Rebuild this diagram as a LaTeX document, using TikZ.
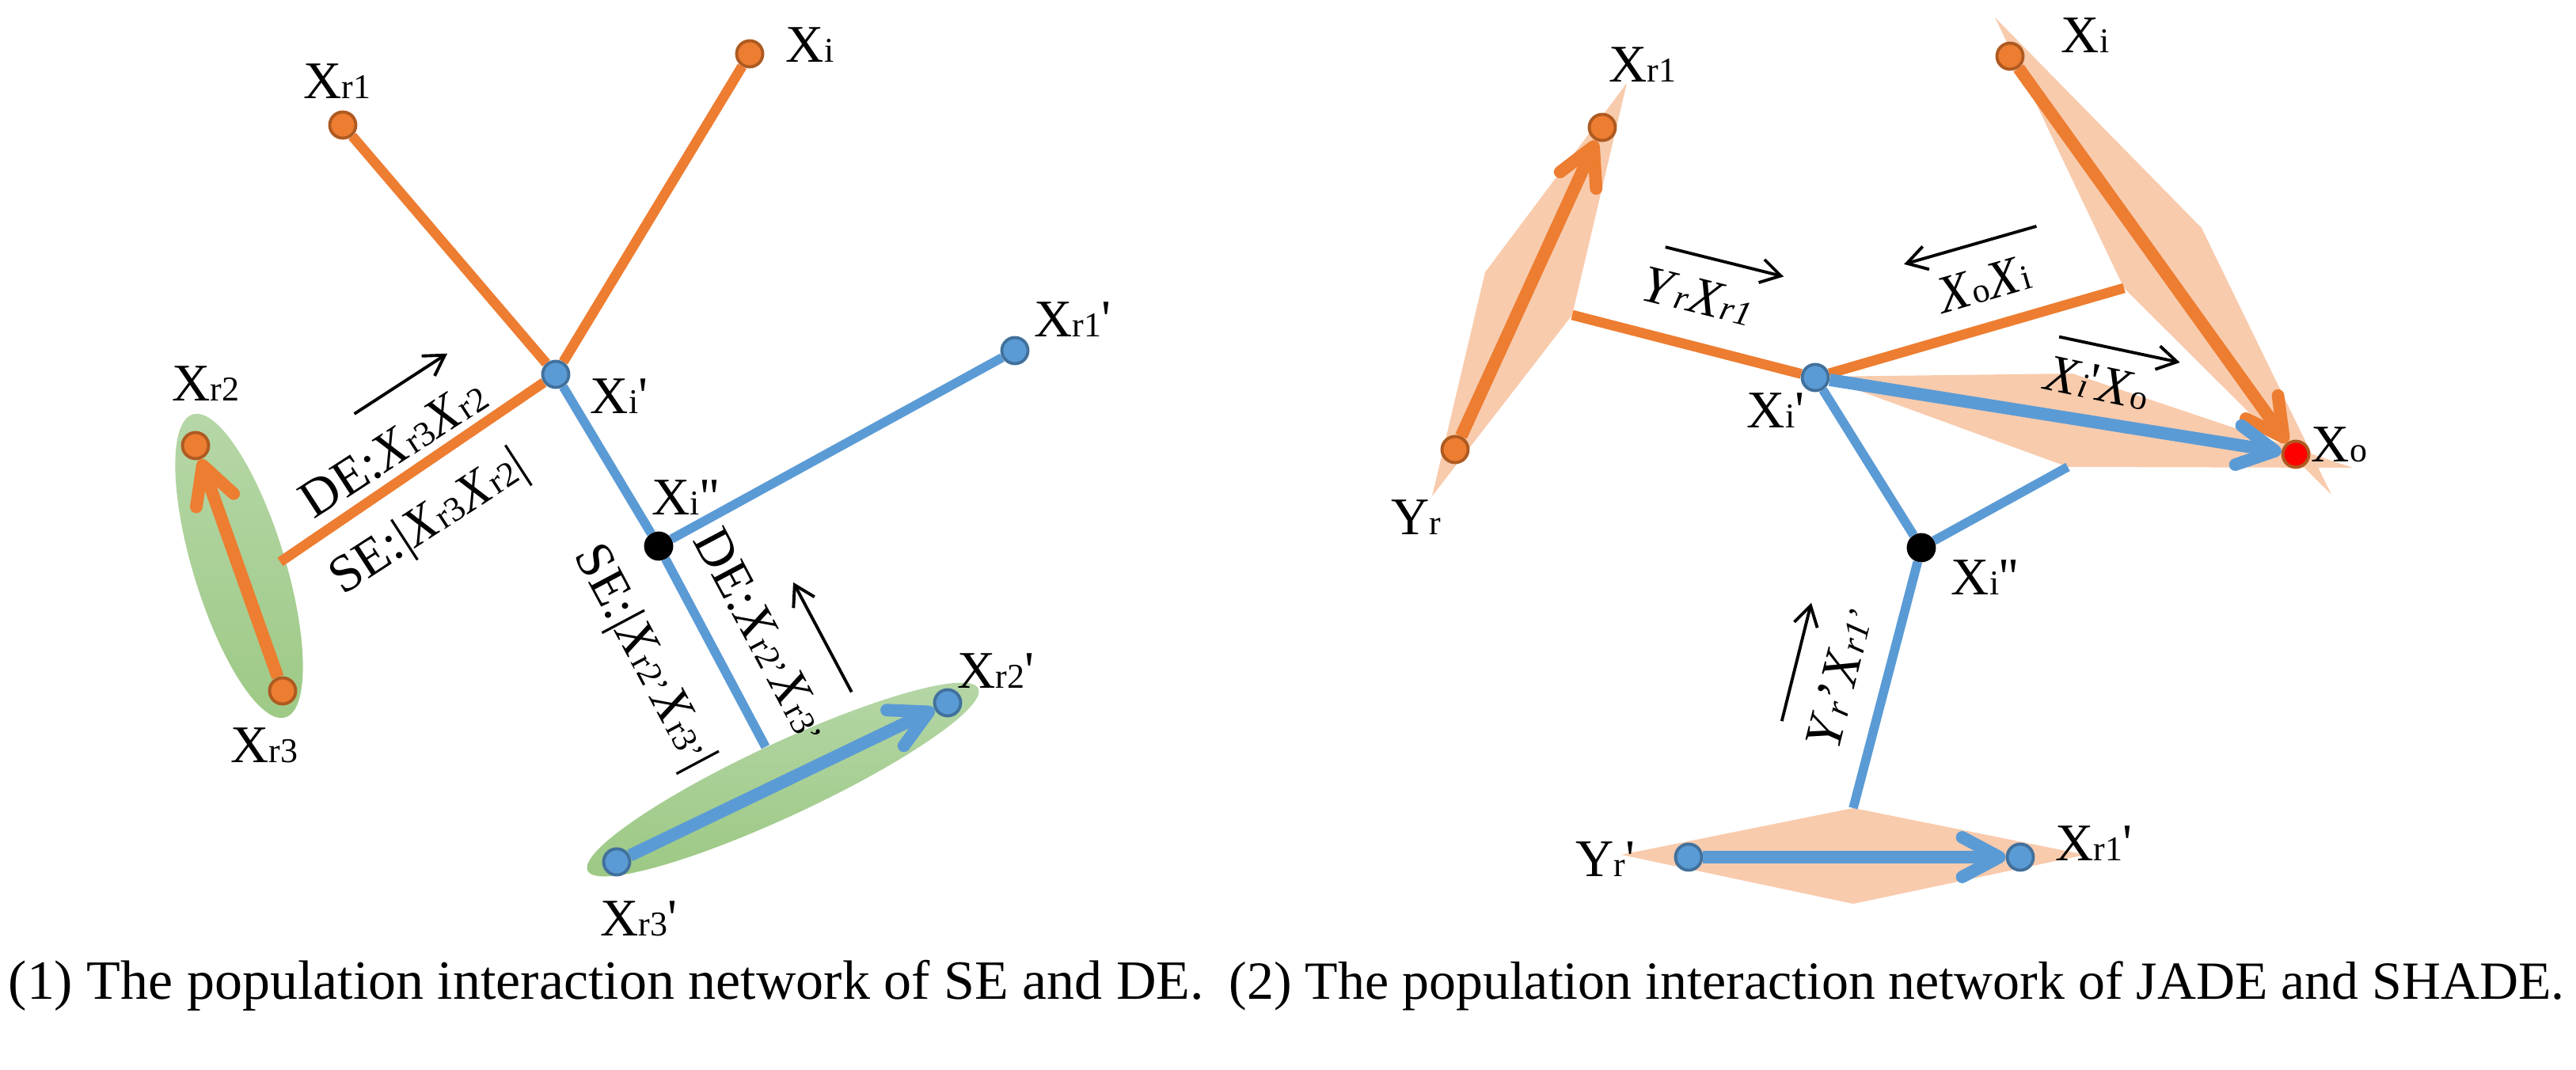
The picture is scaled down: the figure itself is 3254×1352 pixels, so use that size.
\documentclass[tikz,border=0pt]{standalone}
\usepackage{fontspec}
\setmainfont{Liberation Serif}
\usetikzlibrary{arrows.meta, shapes.geometric}
\definecolor{orng}{HTML}{ED7D31}
\definecolor{orngdk}{HTML}{AE5A21}
\definecolor{blu}{HTML}{5B9BD5}
\definecolor{bludk}{HTML}{41719C}
\definecolor{peach}{HTML}{F8CBAD}
\definecolor{grnlt}{HTML}{B6D7A8}
\definecolor{grndk}{HTML}{9DC985}
\newcommand{\smallsub}[1]{{\fontsize{12.5}{12.5}\selectfont #1}}
\newcommand{\sprime}{\textquotesingle}

\begin{document}
\begin{tikzpicture}[
  x=0.01cm, y=-0.01cm,
  lbl/.style={font=\fontsize{19}{19}\selectfont, inner sep=0pt},
  captext/.style={inner sep=0pt, anchor=base west},
  odot/.style={circle, minimum size=0.33cm, inner sep=0pt, line width=1.1pt, fill=orng, draw=orngdk},
  bdot/.style={odot, fill=blu, draw=bludk},
  kdot/.style={odot, fill=black, draw=black},
  rdot/.style={odot, fill=red, draw=orngdk},
  oline/.style={orng, line width=3.6pt},
  bline/.style={blu, line width=3.3pt},
  oarrow/.style={oline, line width=4.5pt, -{Straight Barb[length=0.47cm, width=0.5cm, round]}},
  barrow/.style={oarrow, blu},
  vec/.style={line width=1.1pt, -{Straight Barb[length=0.25cm, width=0.3cm]}},
  grp/.style={ellipse, inner sep=0pt, top color=grnlt, bottom color=grndk},
  blob/.style={fill=peach}
]
  \useasboundingbox (0,0) rectangle (3254,1352);

  % (1) SE and DE
  \node[grp, minimum width=4cm, minimum height=1.16cm, rotate=107] (grpone) at (302,715) {};
  \node[grp, minimum width=5.44cm, minimum height=0.92cm, rotate=25] (grptwo) at (989,985) {};
  \coordinate (grponeedge) at (354,710);

  \node[odot] (xrone) at (433,158) {};
  \node[odot] (xi) at (947,68) {};
  \node[bdot] (xip) at (702,473) {};
  \node[bdot] (xronep) at (1282,443) {};
  \node[kdot] (xipp) at (832,690) {};
  \node[odot] (xrtwo) at (247,563) {};
  \node[odot] (xrthree) at (357,873) {};
  \node[bdot] (xrtwop) at (1197,888) {};
  \node[bdot] (xrthreep) at (779,1089) {};

  \draw[oline] (xrone) -- (xip);
  \draw[oline] (xi) -- (xip);
  \draw[oline] (grponeedge) -- (xip);
  \draw[bline] (xip) -- (xipp);
  \draw[bline] (xipp) -- (xronep);
  \draw[bline] (xipp) -- (grptwo);
  \draw[oarrow] (xrthree) -- (xrtwo);
  \draw[barrow] (xrthreep) -- (xrtwop);

  \node[lbl] (lxrone) at (426,103) {X\smallsub{r1}};
  \node[lbl] (lxi) at (1023,57) {X\smallsub{i}};
  \node[lbl] (lxip) at (782,501) {X\smallsub{i}\sprime};
  \node[lbl] (lxronep) at (1355,404) {X\smallsub{r1}\sprime};
  \node[lbl] (lxipp) at (866,629) {X\smallsub{i}\sprime\sprime};
  \node[lbl] (lxrtwo) at (260,485) {X\smallsub{r2}};
  \node[lbl] (lxrthree) at (334,942) {X\smallsub{r3}};
  \node[lbl] (lxrtwop) at (1258,848) {X\smallsub{r2}\sprime};
  \node[lbl] (lxrthreep) at (807,1161) {X\smallsub{r3}\sprime};

  \begin{scope}[shift={(497,566)}, rotate=33, transform shape]
    \node[lbl] (deone) {DE:\textit{X}\smallsub{r3}\textit{X}\smallsub{r2}};
    \draw[vec] (-18,-63) -- (122,-63);
  \end{scope}
  \begin{scope}[shift={(543,662)}, rotate=33, transform shape]
    \node[lbl] (seone) {SE:|\textit{X}\smallsub{r3}\textit{X}\smallsub{r2}|};
  \end{scope}
  \begin{scope}[shift={(963,803)}, rotate=-62, transform shape]
    \node[lbl] (detwo) {DE:\textit{X}\smallsub{r2’}\textit{X}\smallsub{r3’}};
    \draw[vec] (116,-66) -- (-41,-66);
  \end{scope}
  \begin{scope}[shift={(812,832)}, rotate=-62, transform shape]
    \node[lbl] (setwo) {SE:|\textit{X}\smallsub{r2’}\textit{X}\smallsub{r3’}|};
  \end{scope}

  % (2) JADE and SHADE
  \fill[blob] (2055,105) -- (1876,344) -- (1809,627) -- (1986,398) coordinate (yrside) -- cycle;
  \fill[blob] (2520,22) -- (2781,288) -- (2945,625) -- (2683,364) coordinate (xiside) -- cycle;
  \fill[blob] (2300,476) -- (2618,472) -- (2972,591) -- (2612,590) coordinate (xoside) -- cycle;
  \fill[blob] (2048,1080) -- (2341,1021) coordinate (yrptop) -- (2634,1080) -- (2341,1142) -- cycle;

  \node[odot] (rxrone) at (2024,161) {};
  \node[odot] (ryr) at (1838,568) {};
  \node[odot] (rxi) at (2539,71) {};
  \node[rdot] (rxo) at (2900,574) {};
  \node[bdot] (rxip) at (2293,477) {};
  \node[kdot] (rxipp) at (2427,692) {};
  \node[bdot] (ryrp) at (2133,1083) {};
  \node[bdot] (rxronep) at (2552,1083) {};

  \draw[oline] (yrside) -- (rxip);
  \draw[oline] (rxip) -- (xiside);
  \draw[bline] (rxip) -- (rxipp);
  \draw[bline] (rxipp) -- (xoside);
  \draw[bline] (rxipp) -- (yrptop);
  \draw[oarrow] (ryr) -- (rxrone);
  \draw[oarrow] (rxi) -- (rxo);
  \draw[barrow] (rxip) -- (rxo);
  \draw[barrow] (ryrp) -- (rxronep);

  \node[lbl] (lrxrone) at (2075,82) {X\smallsub{r1}};
  \node[lbl] (lryr) at (1789,654) {Y\smallsub{r}};
  \node[lbl] (lrxi) at (2634,45) {X\smallsub{i}};
  \node[lbl] (lrxo) at (2955,562) {X\smallsub{o}};
  \node[lbl] (lrxip) at (2243,519) {X\smallsub{i}\sprime};
  \node[lbl] (lrxipp) at (2507,730) {X\smallsub{i}\sprime\sprime};
  \node[lbl] (lryrp) at (2028,1086) {Y\smallsub{r}\sprime};
  \node[lbl] (lrxronep) at (2645,1066) {X\smallsub{r1}\sprime};

  \begin{scope}[shift={(2145,374)}, rotate=-14, transform shape]
    \node[lbl] (yrxr) {\textit{Y}\smallsub{\textit{r}}\textit{X}\smallsub{\textit{r1}}};
    \draw[vec] (-55,-50) -- (99,-50);
  \end{scope}
  \begin{scope}[shift={(2506,359)}, rotate=16, transform shape]
    \node[lbl] (xoxi) {\textit{X}\smallsub{o}\textit{X}\smallsub{i}};
    \draw[vec] (84,-52) -- (-90,-52);
  \end{scope}
  \begin{scope}[shift={(2650,484)}, rotate=-12, transform shape]
    \node[lbl] (xipxo) {\textit{X}\smallsub{\textit{i}}\sprime\textit{X}\smallsub{o}};
    \draw[vec] (-60,-47) -- (96,-47);
  \end{scope}
  \begin{scope}[shift={(2323,857)}, rotate=76, transform shape]
    \node[lbl] (yrpxrp) {\textit{Y}\smallsub{\textit{r}}’\textit{X}\smallsub{\textit{r1’}}};
    \draw[vec] (-70,-57) -- (84,-57);
  \end{scope}

  % Captions
  \node[captext, font=\fontsize{19.9}{19.9}\selectfont] (capone) at (10,1262) {(1) The population interaction network of SE and DE.};
  \node[captext, font=\fontsize{19.3}{19.3}\selectfont] (captwo) at (1552,1262) {(2) The population interaction network of JADE and SHADE.};
\end{tikzpicture}
\end{document}
